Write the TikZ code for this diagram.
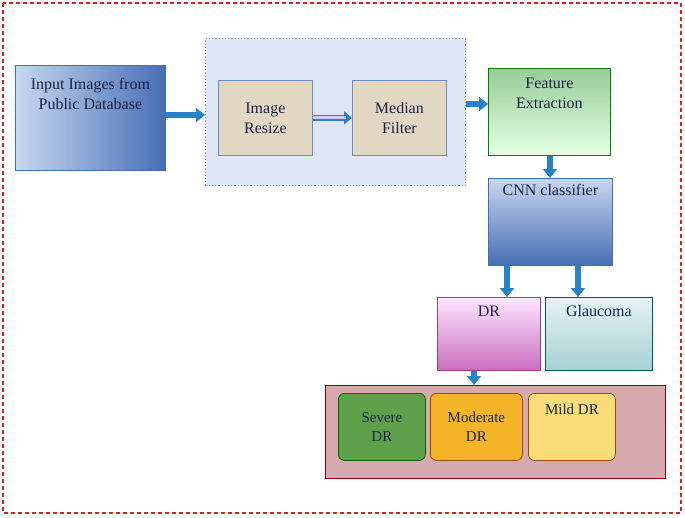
\documentclass[tikz,border=0pt]{standalone}
\usepackage{fontspec}
\setmainfont{Liberation Serif}
\usetikzlibrary{arrows.meta,positioning}
\definecolor{steel}{RGB}{70,110,180}
\definecolor{steell}{RGB}{200,215,240}
\definecolor{txt}{RGB}{25,35,70}
\definecolor{arrc}{RGB}{40,130,200}
\definecolor{bred}{RGB}{220,30,30}
\begin{document}
\begin{tikzpicture}[x=1pt,y=-1pt,
 box/.style={draw=#1,line width=0.8pt,align=center,anchor=north west,inner sep=2pt,text=txt,font=\fontsize{16}{20}\selectfont},
 arr/.style={draw=arrc,line width=6pt,-{Triangle[length=9pt,width=14pt]}}]
\useasboundingbox (0,0) rectangle (685,517);
\draw[draw=bred,dash pattern=on 4pt off 3pt,line width=1.3pt] (3,3) rectangle (681,513);
% containers
\node[draw=steel!70,dotted,line width=1.2pt,fill=steell!60,minimum width=260,minimum height=147,anchor=north west] (pre) at (205,38) {};
\node[draw=red!50!black,line width=0.8pt,fill={rgb,255:red,215;green,170;blue,175},minimum width=340,minimum height=93,anchor=north west] (grade) at (325,385) {};
% boxes
\node[box=steel,left color=steell,right color=steel,minimum width=150,minimum height=105] (in) at (15,65) {Input Images from\\Public Database\\[28pt]};
\node[box=steel!80,fill={rgb,255:red,225;green,215;blue,195},minimum width=94,minimum height=75] (rs) at (218,80) {Image\\Resize};
\node[box=steel!80,fill={rgb,255:red,225;green,215;blue,195},minimum width=94,minimum height=75] (mf) at (352,80) {Median\\Filter};
\node[box=green!50!black,top color=green!35!gray!60,bottom color=green!10,minimum width=122,minimum height=87] (fe) at (488,68) {Feature\\Extraction\\[18pt]};
\node[box=steel,top color=steell,bottom color=steel,minimum width=124,minimum height=87,align=left] (cnn) at (488,178) {CNN classifier\\[44pt]};
\node[box=magenta!60!black,top color=magenta!10,bottom color={rgb,255:red,200;green,110;blue,190},minimum width=103,minimum height=73] (dr) at (437,297) {DR\\[26pt]};
\node[box=teal!70!black,top color=teal!10,bottom color=teal!35,minimum width=107,minimum height=73] (gl) at (545,297) {Glaucoma\\[26pt]};
\node[box=green!40!black,fill={rgb,255:red,95;green,160;blue,75},rounded corners=6pt,minimum width=87,minimum height=67,font=\fontsize{15}{19}\selectfont] (sev) at (338,393) {Severe\\DR};
\node[box=orange!60!black,fill={rgb,255:red,245;green,180;blue,40},rounded corners=6pt,minimum width=92,minimum height=67,font=\fontsize{15}{19}\selectfont] (mod) at (430,393) {Moderate\\DR};
\node[box=orange!60!black,fill={rgb,255:red,250;green,220;blue,120},rounded corners=6pt,minimum width=87,minimum height=67,font=\fontsize{15}{19}\selectfont] (mild) at (528,393) {Mild DR\\[16pt]};
% arrows
\draw[arr] (in.east|-0,115) -- (pre.west|-0,115);
\draw[draw=arrc,line width=6pt,-{Triangle[length=8pt,width=13pt]}] (rs.east) -- (mf.west);
\draw[white!80!blue,line width=3pt,shorten >=6pt] (rs.east) -- (mf.west);
\draw[arr] (pre.east|-0,104) -- (fe.west|-0,104);
\draw[arr] (fe.south-|550,0) -- (cnn.north-|550,0);
\draw[arr] (cnn.south-|507,0) -- (dr.north-|507,0);
\draw[arr] (cnn.south-|578,0) -- (gl.north-|578,0);
\draw[arr] (dr.south-|474,0) -- (grade.north-|474,0);
\end{tikzpicture}
\end{document}
